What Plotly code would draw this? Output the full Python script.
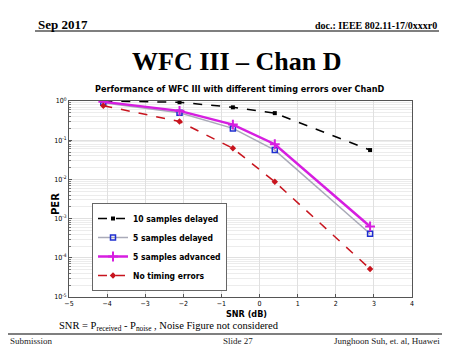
import plotly.graph_objects as go

snr = [-4.1, -2.1, -0.7, 0.4, 2.9]
per_10_delayed = [1.0, 0.93, 0.69, 0.49, 0.056]
per_5_delayed = [0.9, 0.50, 0.20, 0.056, 4.1e-4]
per_5_advanced = [0.95, 0.56, 0.25, 0.079, 6.3e-4]
per_no_error = [0.76, 0.30, 0.062, 0.0087, 5.2e-5]

x_ticks = [-5, -4, -3, -2, -1, 0, 1, 2, 3, 4]
y_ticks = [1e-5, 1e-4, 1e-3, 1e-2, 1e-1, 1]
y_ticktext = ["10<sup>-5</sup>", "10<sup>-4</sup>", "10<sup>-3</sup>", "10<sup>-2</sup>", "10<sup>-1</sup>", "10<sup>0</sup>"]

# page body has an 8px margin; figure is offset by it
OFF = 8
W, H = 474 - OFF, 355 - OFF
L, R, T, B = 69, 412, 101, 297   # plot box in reference (page) pixels
COND = "DejaVu Sans Condensed, Liberation Sans Narrow, Arial Narrow, sans-serif"
SERIF = "Liberation Serif, Times New Roman, serif"

def px(x):
    return (x - L) / (R - L)

def py(y):
    return (B - y) / (B - T)

fig = go.Figure()
fig.add_trace(go.Scatter(x=snr, y=per_10_delayed, name="10 samples delayed", mode="lines+markers",
                         line=dict(color="black", width=1.5, dash="dash"),
                         marker=dict(symbol="square", size=4, color="black")))
fig.add_trace(go.Scatter(x=snr, y=per_5_delayed, name="5 samples delayed", mode="lines+markers",
                         line=dict(color="#a9aab8", width=1.5),
                         marker=dict(symbol="square-open", size=5, color="#1f2fd0", line=dict(width=1.5))))
fig.add_trace(go.Scatter(x=snr, y=per_5_advanced, name="5 samples advanced", mode="lines+markers",
                         line=dict(color="#d61ee0", width=2.5),
                         marker=dict(symbol="cross-thin", size=7, color="#d61ee0", line=dict(width=2, color="#d61ee0"))))
fig.add_trace(go.Scatter(x=snr, y=per_no_error, name="No timing errors", mode="lines+markers",
                         line=dict(color="#c8141e", width=1.5, dash="dash"),
                         marker=dict(symbol="diamond", size=5, color="#c8141e")))

axis_common = dict(showline=True, linecolor="#555", linewidth=1, mirror=True, ticks="inside",
                   ticklen=3, tickcolor="#555", gridcolor="#e0e0e0", gridwidth=1, zeroline=False)

fig.update_xaxes(range=[-5, 4], tickvals=x_ticks, tickfont=dict(size=7, family=COND, color="black"),
                 ticklabelstandoff=0, **axis_common)
fig.update_yaxes(type="log", range=[-5, 0], tickvals=y_ticks, ticktext=y_ticktext,
                 tickfont=dict(size=7, family=COND, color="black"),
                 minor=dict(showgrid=True, gridcolor="#ececec", dtick="D1", ticks="inside", ticklen=2,
                            tickcolor="#777"),
                 **axis_common)

fig.update_layout(
    width=W, height=H,
    margin=dict(l=L - OFF, r=W - (R - OFF), t=T - OFF, b=H - (B - OFF), pad=0),
    paper_bgcolor="white", plot_bgcolor="white",
    showlegend=True,
    legend=dict(x=px(92), y=py(247), xanchor="left", yanchor="middle",
                bgcolor="white", bordercolor="#666", borderwidth=1,
                font=dict(size=8.5, family=COND, color="black", weight="bold"),
                itemwidth=30, tracegroupgap=0),
    font=dict(family=COND, color="black"),
)

ann = []
# header
ann.append(dict(x=px(36), y=py(24), xanchor="left", yanchor="middle",
                text="<b>Sep 2017</b>", font=dict(family=SERIF, size=13, color="black")))
ann.append(dict(x=px(439), y=py(25), xanchor="right", yanchor="middle",
                text="<b>doc.: IEEE 802.11-17/0xxxr0</b>", font=dict(family=SERIF, size=10, color="black")))
# slide title
ann.append(dict(x=px(237), y=py(62), xanchor="center", yanchor="middle",
                text="<b>WFC III – Chan D</b>", font=dict(family=SERIF, size=26, color="black")))
# chart title
ann.append(dict(x=px(240), y=py(89), xanchor="center", yanchor="middle",
                text="<b>Performance of WFC III with different timing errors over ChanD</b>",
                font=dict(family=COND, size=9, color="black")))
# axis labels
ann.append(dict(x=px(55), y=py(204), xanchor="center", yanchor="middle", textangle=-90,
                text="<b>PER</b>", font=dict(family="DejaVu Sans, sans-serif", size=10, color="black")))
ann.append(dict(x=px(246), y=py(313.5), xanchor="center", yanchor="middle",
                text="<b>SNR (dB)</b>", font=dict(family=COND, size=9, color="black")))
# caption
ann.append(dict(x=px(57), y=py(326), xanchor="left", yanchor="middle",
                text="SNR = P<sub>received</sub> - P<sub>noise</sub> , Noise Figure not considered",
                font=dict(family=SERIF, size=10.5, color="black")))
# footer
ann.append(dict(x=px(8), y=py(341), xanchor="left", yanchor="middle",
                text="Submission", font=dict(family=SERIF, size=9, color="#222")))
ann.append(dict(x=px(238), y=py(341), xanchor="center", yanchor="middle",
                text="Slide 27", font=dict(family=SERIF, size=9, color="#222")))
ann.append(dict(x=px(442), y=py(341), xanchor="right", yanchor="middle",
                text="Junghoon Suh, et. al, Huawei", font=dict(family=SERIF, size=9, color="#222")))
for a in ann:
    a.update(xref="paper", yref="paper", showarrow=False)
fig.update_layout(annotations=ann)

fig.add_shape(type="line", xref="paper", yref="paper", x0=px(35), x1=px(439), y0=py(31), y1=py(31),
              line=dict(color="#555", width=1.5))
fig.add_shape(type="line", xref="paper", yref="paper", x0=px(5), x1=px(442), y0=py(334), y1=py(334),
              line=dict(color="#555", width=1.5))

fig.write_html("out.html")
